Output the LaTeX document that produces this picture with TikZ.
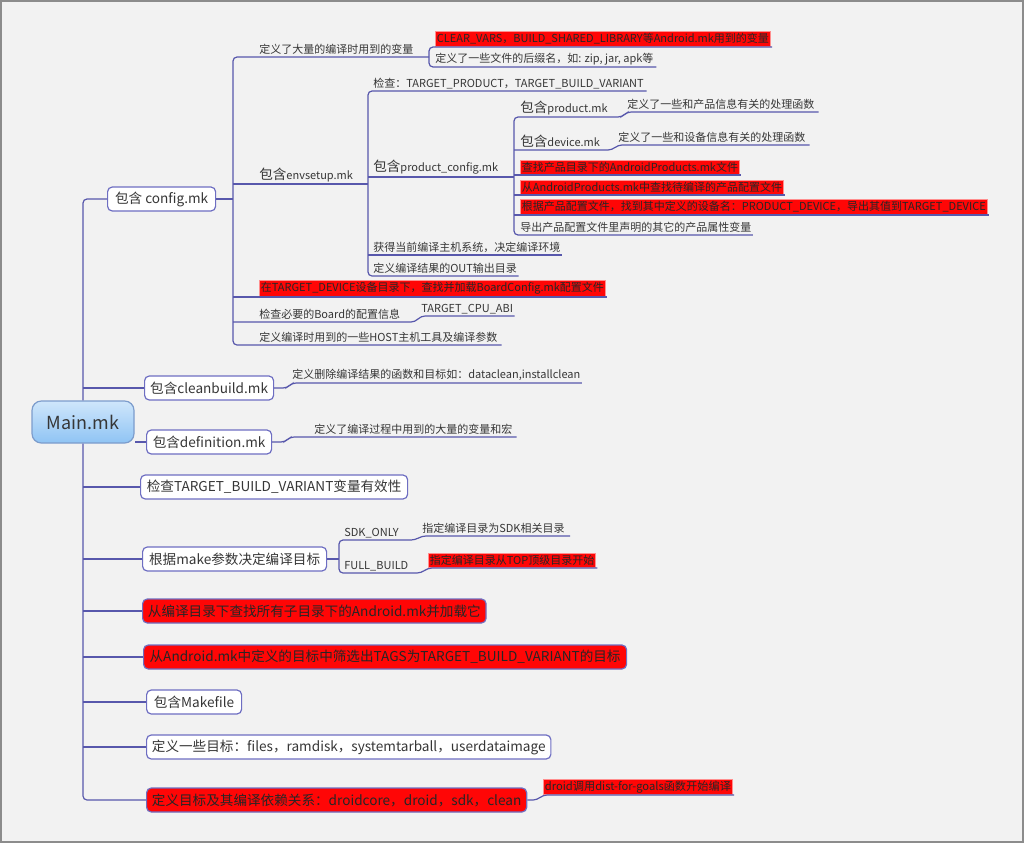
\documentclass[tikz,border=0pt]{standalone}
\usepackage{fontspec}
\setmainfont{Noto Sans CJK SC}
\definecolor{bgpaper}{HTML}{F2F2F2}
\definecolor{framegray}{HTML}{8C8C8C}
\definecolor{linkblue}{HTML}{5858AC}
\definecolor{boxline}{HTML}{6E6EC2}
\definecolor{inkgray}{HTML}{363636}
\definecolor{maintop}{HTML}{CFE6FB}
\definecolor{mainblue}{HTML}{8FC4F4}
\definecolor{mainline}{HTML}{7C9CCC}
\definecolor{hotred}{HTML}{FF0606}
\newcommand{\fbig}{\fontsize{13.5pt}{16pt}\selectfont}
\newcommand{\fmid}{\fontsize{10.2pt}{12pt}\selectfont}
\newcommand{\fsmall}{\fontsize{8.25pt}{10pt}\selectfont}
\newcommand{\ftiny}{\fontsize{8.4pt}{9.5pt}\selectfont}
\begin{document}
\begin{tikzpicture}[x=0.75pt,y=0.75pt,yscale=-1,xscale=1,
  conn/.style={linkblue, line width=0.9pt, rounded corners=3pt},
  topic/.style={draw=boxline, fill=white, line width=0.9pt, rounded corners=3.5pt, anchor=west, minimum height=18pt, inner xsep=4pt, font=\fmid, text=inkgray},
  hottopic/.style={topic, fill=hotred, text=black!85},
  leaf/.style={anchor=south west, inner xsep=0pt, inner ysep=1.5pt, font=\fsmall, text=inkgray},
  hotleaf/.style={leaf, fill=hotred, draw=hotred!45, line width=0.8pt, inner xsep=1pt, text=black!85}]
\fill[bgpaper] (0,0) rectangle (1024,843);
\draw[framegray, line width=1.5pt] (1,1) rectangle (1023,842);
\useasboundingbox (0,0) rectangle (1024,843);

% root and first level
\node (main) [draw=mainline, line width=0.9pt, rounded corners=7pt, top color=maintop, bottom color=mainblue, minimum width=76.5pt, minimum height=31.5pt, font=\fbig, text=inkgray] at (83,422) {Main.mk};
\node (config) [topic, minimum width=81pt] at (107,199) {包含 config.mk};
\node (clean) [topic, minimum width=96.75pt] at (144,388) {包含cleanbuild.mk};
\node (defin) [topic, minimum width=93.75pt] at (146,442) {包含definition.mk};
\node (check) [topic, minimum width=200.25pt] at (140,487) {检查TARGET\_BUILD\_VARIANT变量有效性};
\node (makep) [topic, minimum width=138pt] at (142,559) {根据make参数决定编译目标};
\node (find) [hottopic, minimum width=255.75pt] at (142,611) {从编译目录下查找所有子目录下的Android.mk并加载它};
\node (tags) [hottopic, minimum width=362.25pt] at (143,657) {从Android.mk中定义的目标中筛选出TAGS为TARGET\_BUILD\_VARIANT的目标};
\node (makefile) [topic, minimum width=71.25pt] at (146,702) {包含Makefile};
\node (targets) [topic, minimum width=300.75pt] at (146,747) {定义一些目标：files，ramdisk，systemtarball，userdataimage};
\node (deps) [hottopic, minimum width=283.5pt] at (146,800) {定义目标及其编译依赖关系：droidcore，droid，sdk，clean};

\draw[conn] (config.west) -| (main.north);
\draw[conn] (clean.west) -- (clean.west -| main.north);
\draw[conn] (defin.west) -- (defin.west -| main.east);
\draw[conn] (main.south) |- (deps.west);
\foreach \n in {check,makep,find,tags,makefile,targets}
  \draw[conn] (\n.west) -- (\n.west -| main.south);

% config.mk
\coordinate (cfgx) at (233,199);
\coordinate (varsx) at (429,57);
\coordinate (envx) at (368,184);
\coordinate (prodx) at (514,177);
\node (vars) [leaf] at (259,57) {定义了大量的编译时用到的变量};
\node (envs) [leaf] at (259,184) {{\fmid 包含}envsetup.mk};
\node (boardcfg) [hotleaf] at (259,297) {在TARGET\_DEVICE设备目录下，查找并加载BoardConfig.mk配置文件};
\node (boardchk) [leaf] at (259,322) {检查必要的Board的配置信息};
\node (cpuabi) [leaf] at (421,316) {TARGET\_CPU\_ABI};
\node (hosttools) [leaf] at (259,345) {定义编译时用到的一些HOST主机工具及编译参数};
\draw[conn] (config.east) -- (cfgx);
\draw[conn] (vars.south -| varsx) -- (vars.south west -| cfgx) -- (hosttools.south west -| cfgx) -- ([xshift=3pt]hosttools.south east);
\draw[conn] (envs.south west -| cfgx) -- (envs.south -| envx);
\draw[conn] (boardcfg.south west -| cfgx) -- ([xshift=1pt]boardcfg.south east);
\draw[conn] (boardchk.south west -| cfgx) -- (415,322) -- (cpuabi.south west) -- ([xshift=1pt]cpuabi.south east);

\node (clearvars) [hotleaf] at (435,47) {CLEAR\_VARS，BUILD\_SHARED\_LIBRARY等Android.mk用到的变量};
\node (suffix) [leaf] at (435,67) {定义了一些文件的后缀名，如: zip, jar, apk等};
\draw[conn] ([xshift=1pt]clearvars.south east) -- (clearvars.south west -| varsx) -- (suffix.south west -| varsx) -- ([xshift=2pt]suffix.south east);

% envsetup.mk
\node (chkprod) [leaf] at (373,91) {检查：TARGET\_PRODUCT，TARGET\_BUILD\_VARIANT};
\node (prodcfg) [leaf] at (373,177) {{\fmid 包含}product\_config.mk};
\node (hostsys) [leaf] at (373,255) {获得当前编译主机系统，决定编译环境};
\node (outdir) [leaf] at (373,276) {定义编译结果的OUT输出目录};
\draw[conn] ([xshift=2pt]chkprod.south east) -- (chkprod.south west -| envx) -- (outdir.south west -| envx) -- ([xshift=1pt]outdir.south east);
\draw[conn] (prodcfg.south west -| envx) -- (prodcfg.south -| prodx);
\draw[conn] (hostsys.south west -| envx) -- ([xshift=1pt]hostsys.south east);

% product_config.mk
\node (prodmk) [leaf] at (520,117) {{\fmid 包含}product.mk};
\node (prodfn) [leaf] at (627,112) {定义了一些和产品信息有关的处理函数};
\node (devmk) [leaf] at (520,150) {{\fmid 包含}device.mk};
\node (devfn) [leaf] at (618,145) {定义了一些和设备信息有关的处理函数};
\node (findap) [hotleaf] at (520,175) {查找产品目录下的AndroidProducts.mk文件};
\node (fromap) [hotleaf] at (520,195) {从AndroidProducts.mk中查找待编译的产品配置文件};
\node (getdev) [hotleaf] at (520,215) {根据产品配置文件，找到其中定义的设备名：PRODUCT\_DEVICE，导出其值到TARGET\_DEVICE};
\node (exportv) [leaf] at (520,235) {导出产品配置文件里声明的其它的产品属性变量};
\draw[conn] ([xshift=3pt]prodfn.south east) -- (prodfn.south west) -- (622,117) -- (prodmk.south west -| prodx) -- (exportv.south west -| prodx) -- ([xshift=1pt]exportv.south east);
\draw[conn] (devmk.south west -| prodx) -- (612,150) -- (devfn.south west) -- ([xshift=3pt]devfn.south east);
\foreach \n in {findap,fromap,getdev}
  \draw[conn] (\n.south west -| prodx) -- ([xshift=1pt]\n.south east);

% cleanbuild.mk, definition.mk
\node (cleanfn) [leaf] at (292,383) {定义删除编译结果的函数和目标如：dataclean,installclean};
\draw[conn] (clean.east) -- (287,388) -- (cleanfn.south west) -- ([xshift=1pt]cleanfn.south east);
\node (definfn) [leaf] at (314,437) {定义了编译过程中用到的大量的变量和宏};
\draw[conn] (defin.east) -- (285,442) -- (290,437) -- ([xshift=3pt]definfn.south east);

% make targets
\coordinate (makepx) at (339,559);
\node (sdk) [leaf] at (344,540) {SDK\_ONLY};
\node (sdkfn) [leaf] at (422,536) {指定编译目录为SDK相关目录};
\node (fullb) [leaf] at (344,573) {FULL\_BUILD};
\node (fullfn) [hotleaf] at (428,568) {指定编译目录从TOP顶级目录开始};
\draw[conn] (makep.east) -- (makepx);
\draw[conn] ([xshift=4pt]sdkfn.south east) -- (sdkfn.south west) -- (415,540) -- (sdk.south west -| makepx) -- (fullb.south west -| makepx) -- (421,573) -- (fullfn.south west) -- ([xshift=1pt]fullfn.south east);

% droid
\node (droidfn) [hotleaf, font=\ftiny, inner ysep=1pt] at (543,795) {droid调用dist-for-goals函数开始编译};
\draw[conn] (deps.east) -- (537,800) -- (droidfn.south west) -- ([xshift=1pt]droidfn.south east);
\end{tikzpicture}
\end{document}
